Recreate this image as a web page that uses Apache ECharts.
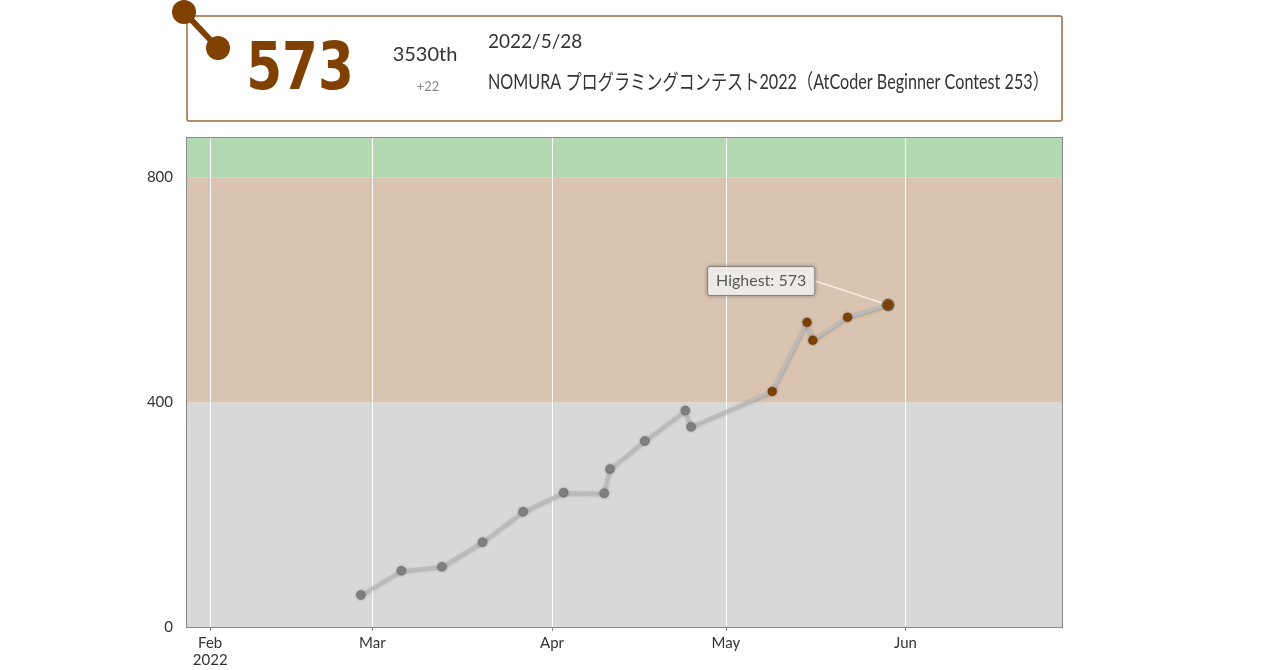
<!DOCTYPE html>
<html><head><meta charset="utf-8">
<script src="https://cdn.jsdelivr.net/npm/echarts@6/dist/echarts.min.js"></script>
<style>html,body{margin:0;background:#fff}#c{width:1280px;height:670px}</style>
</head><body><div id="c"></div>
<script>
const dates = ['2022-02-27','2022-03-06','2022-03-13','2022-03-20','2022-03-27','2022-04-03','2022-04-10','2022-04-11','2022-04-17','2022-04-24','2022-04-25','2022-05-09','2022-05-15','2022-05-16','2022-05-22','2022-05-29'];
const ratings = [57,100,107,151,205,239,238,281,331,385,356,419,542,510,551,573];
const monthTicks = ['2022-02-01','2022-03-01','2022-04-01','2022-05-01','2022-06-01'];
const monthLabels = ['Feb\n2022','Mar','Apr','May','Jun'];
const yTicks = [0,400,800];

const t = s => new Date(s + 'T00:00:00Z').getTime();
const tickMs = monthTicks.map(t);
const pts = dates.map((d,i)=>[t(d), ratings[i]]);
const colorFor = v => v < 400 ? '#808080' : (v < 800 ? '#804000' : '#008000');
const hi = Math.max(...ratings), hiIdx = ratings.indexOf(hi);

const chart = echarts.init(document.getElementById('c'));
chart.setOption({
  animation:false,
  grid:{left:187,right:218,top:138,bottom:43,show:true,borderColor:'#8a8a8a',borderWidth:2,backgroundColor:'transparent'},
  xAxis:{type:'value',min:t('2022-01-28'),max:t('2022-06-28'),
    axisLine:{show:false},
    axisTick:{show:true,customValues:tickMs,length:4,lineStyle:{color:'#888'}},
    axisLabel:{customValues:tickMs,color:'#333',fontSize:15,fontFamily:'Lato',lineHeight:17,
      formatter:v=>monthLabels[tickMs.indexOf(v)]||''},
    splitLine:{show:false}},
  yAxis:{type:'value',min:0,max:870,
    axisLine:{show:false},axisTick:{show:false},
    axisLabel:{customValues:yTicks,color:'#333',fontSize:15,fontFamily:'Lato',margin:14},
    splitLine:{show:false}},
  series:[
    {type:'line',data:pts,symbol:'circle',symbolSize:9,
     lineStyle:{color:'#bbb',width:3,shadowColor:'rgba(0,0,0,0.25)',shadowBlur:3,shadowOffsetY:1},
     itemStyle:{color:p=>colorFor(p.value[1]),borderColor:'rgba(0,0,0,0.15)',borderWidth:1,shadowColor:'rgba(0,0,0,0.3)',shadowBlur:3},
     z:5,
     markLine:{silent:true,symbol:'none',label:{show:false},lineStyle:{color:'#fff',width:1,type:'solid'},
       data:tickMs.map(v=>({xAxis:v}))},
     markArea:{silent:true,data:[
       [{yAxis:0,itemStyle:{color:'#d8d8d8'}},{yAxis:400}],
       [{yAxis:400,itemStyle:{color:'#d9c4b1'}},{yAxis:800}],
       [{yAxis:800,itemStyle:{color:'#b3d9b3'}},{yAxis:870}]
     ]}},
    {type:'scatter',data:[pts[hiIdx]],symbolSize:12,z:6,
     itemStyle:{color:colorFor(hi),borderColor:'#555',borderWidth:1},
     label:{show:true,formatter:'Highest: '+hi,color:'#333',fontSize:16,fontFamily:'Lato',
       backgroundColor:'#fff',borderColor:'#888',borderWidth:1,borderRadius:2,padding:[6,8],
       shadowColor:'rgba(0,0,0,0.3)',shadowBlur:4},
     labelLayout:{dx:-127,dy:-24},
     labelLine:{show:true,lineStyle:{color:'#f4ece4',width:1.5}}}
  ],
  graphic:[
    {type:'rect',shape:{x:187,y:16,width:875,height:105,r:2},style:{fill:'#fff',stroke:'#a06a3a',lineWidth:1.5}},
    {type:'line',shape:{x1:184,y1:12,x2:218,y2:48},style:{stroke:'#804000',lineWidth:6}},
    {type:'circle',shape:{cx:184,cy:12,r:12},style:{fill:'#804000'}},
    {type:'circle',shape:{cx:218,cy:48,r:12},style:{fill:'#804000'}},
    {type:'text',x:300,y:72,scaleX:0.78,style:{text:String(hi),fill:'#804000',font:'bold 66px "DejaVu Sans"',align:'center',verticalAlign:'middle'}},
    {type:'text',x:425,y:55,style:{text:'3530th',fill:'#333',font:'20px Lato',align:'center',verticalAlign:'middle'}},
    {type:'text',x:428,y:87,style:{text:'+22',fill:'#888',font:'13px Lato',align:'center',verticalAlign:'middle'}},
    {type:'text',x:488,y:42,style:{text:'2022/5/28',fill:'#333',font:'19px Lato',verticalAlign:'middle'}},
    {type:'text',x:488,y:82,scaleX:0.77,style:{text:'NOMURA プログラミングコンテスト2022（AtCoder Beginner Contest 253）',fill:'#333',font:'21px Lato, "Noto Sans CJK JP"',verticalAlign:'middle'}}
  ]
});
</script></body></html>
